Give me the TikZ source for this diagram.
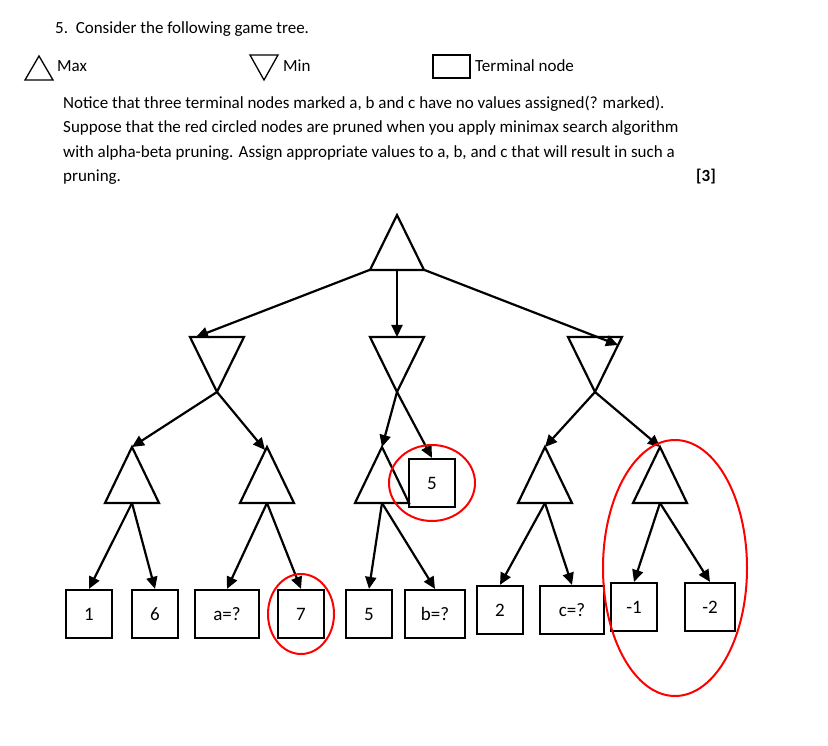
\documentclass[tikz,border=0pt]{standalone}
\usepackage{fontspec}
\setmainfont{Carlito}
\usetikzlibrary{arrows.meta}
\begin{document}
\begin{tikzpicture}[x=1pt,y=-1pt,
  tri/.style={draw,line width=2.2pt,line join=miter},
  leaf/.style={draw,line width=2.2pt,minimum width=46pt,minimum height=48pt,inner sep=0pt,font=\fontsize{19}{22}\selectfont},
  edge/.style={line width=2.2pt,-{Triangle[length=12pt,width=11pt]}},
  prune/.style={draw=red,line width=2pt},
  txt/.style={anchor=base west,inner sep=0pt,font=\fontsize{17}{20}\selectfont}]
\useasboundingbox (0,0) rectangle (828,746);
% text
\node[txt] (t0) at (55,34) {5.\ \ Consider the following game tree.};
\draw[line width=1.3pt] (25,80)--(39,56)--(53,80)--cycle;
\node[txt] (lmax) at (57,72) {Max};
\draw[line width=1.3pt] (250,55)--(264,80)--(278,55)--cycle;
\node[txt] (lmin) at (283,72) {Min};
\draw[line width=1.3pt] (433,55) rectangle (470,78);
\node[txt] (lterm) at (475,72) {Terminal node};
\node[txt] (p1) at (63,109) {Notice that three terminal nodes marked a, b and c have no values assigned(? marked).};
\node[txt] (p2) at (63,133) {Suppose that the red circled nodes are pruned when you apply minimax search algorithm};
\node[txt] (p3) at (63,158) {with alpha-beta pruning. Assign appropriate values to a, b, and c that will result in such a};
\node[txt] (p4) at (63,182) {pruning.};
\node[txt,anchor=base east] (p5) at (716,182) {\textbf{[3]}};
% root
\draw[tri] (370,270)--(397,215)--(424,270)--cycle;
\coordinate (rb) at (397,270); \coordinate (rl) at (372,269); \coordinate (rr) at (422,269);
% min nodes
\foreach \n/\x in {mA/217,mB/397,mC/595}{
  \draw[tri] (\x-27,337)--(\x,392)--(\x+27,337)--cycle;
  \coordinate (\n) at (\x,337); \coordinate (\n b) at (\x,392);}
\coordinate (mAt) at (196,337); \coordinate (mCt) at (618,345);
% max level 3
\foreach \n/\x in {xA/132,xB/267,xC/382,xD/545,xE/660}{
  \draw[tri] (\x-27,503)--(\x,447)--(\x+27,503)--cycle;
  \coordinate (\n) at (\x,447); \coordinate (\n b) at (\x,503);}
\node[leaf] (s5) at (432,483) {5};
% leaves
\node[leaf] (l1) at (89,614) {1};
\node[leaf] (l2) at (155,614) {6};
\node[leaf,minimum width=64pt] (l3) at (227,614) {a=?};
\node[leaf] (l4) at (301,614) {7};
\node[leaf] (l5) at (369,614) {5};
\node[leaf,minimum width=60pt] (l6) at (435,614) {b=?};
\node[leaf] (l7) at (500,610) {2};
\node[leaf,minimum width=64pt] (l8) at (572,610) {c=?};
\node[leaf] (l9) at (634,607) {-1};
\node[leaf,minimum width=50pt] (l10) at (710,607) {-2};
% edges
\draw[edge] (rl)--(mAt);
\draw[edge] (rb)--(mB);
\draw[edge] (rr)--(mCt);
\draw[edge] (mAb)--(xA);
\draw[edge] (mAb)--(265,450);
\draw[edge] (mBb)--(xC);
\draw[edge] (mBb)--(s5.north);
\draw[edge] (mCb)--(xD);
\draw[edge] (mCb)--(xE);
\draw[edge] (xAb)--(l1.north);
\draw[edge] (xAb)--(l2.north);
\draw[edge] (xBb)--(l3.north);
\draw[edge] (xBb)--(l4.north);
\draw[edge] (xCb)--(l5.north);
\draw[edge] (xCb)--(l6.north);
\draw[edge] (xDb)--(l7.north);
\draw[edge] (xDb)--(l8.north);
\draw[edge] (xEb)--(l9.north);
\draw[edge] (xEb)--(l10.north);
% pruned
\draw[prune] (s5) ellipse (43 and 38);
\draw[prune] (l4) ellipse (33 and 40);
\draw[prune] (675,568) ellipse (72 and 128);
\end{tikzpicture}
\end{document}
